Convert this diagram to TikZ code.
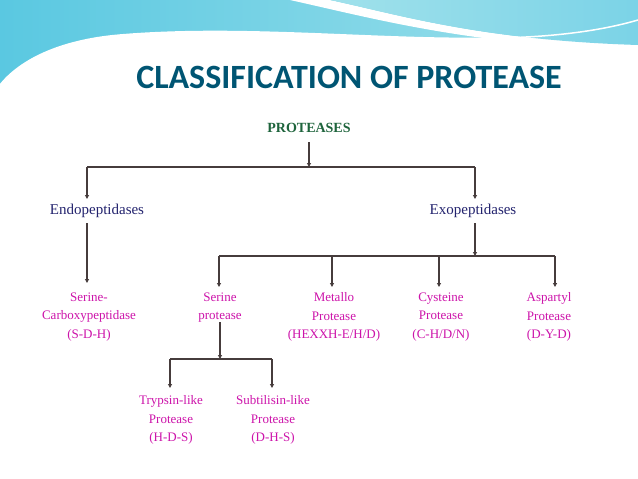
\documentclass[tikz,border=0pt]{standalone}
\usepackage{fontspec}
\setmainfont{Liberation Serif}
\newfontfamily\titlefont{Carlito}
\usetikzlibrary{arrows.meta}
\definecolor{teal1}{RGB}{0,85,115}
\definecolor{pinkt}{RGB}{205,20,170}
\definecolor{navyt}{RGB}{35,35,110}
\definecolor{greent}{RGB}{30,100,60}
\definecolor{cyan1}{RGB}{90,200,225}
\definecolor{cyan2}{RGB}{160,225,235}
\definecolor{linec}{RGB}{70,60,60}
\begin{document}
\begin{tikzpicture}[x=1pt,y=-1pt,
  conn/.style={draw=linec,line width=1.1pt},
  arr/.style={conn,-{Triangle[length=4pt,width=4pt]}},
  leaf/.style={text=pinkt,font=\fontsize{13}{18.5}\selectfont,align=center},
  mid/.style={text=navyt,font=\fontsize{15}{17}\selectfont},
]
\useasboundingbox (0,0) rectangle (638,479);
\fill[white] (0,0) rectangle (638,479);
% top waves
\shade[left color=cyan1,right color=cyan2] (0,0) -- (638,0) -- (638,20)
  .. controls (500,60) and (300,20) .. (120,35) .. controls (60,40) and (20,60) .. (0,85) -- cycle;
\fill[white] (290,0) .. controls (380,20) and (470,45) .. (638,50) -- (638,45)
  .. controls (480,40) and (400,15) .. (330,0) -- cycle;
\shade[left color=cyan2,right color=cyan1!80] (330,0) .. controls (400,15) and (480,40) .. (638,45) -- (638,0) -- cycle;
\draw[white,line width=1.5pt] (0,85) .. controls (20,60) and (60,40) .. (120,35) .. controls (300,20) and (500,60) .. (638,20);
\node[text=teal1,font=\titlefont\bfseries\fontsize{34}{36}\selectfont] (title) at (349,77) {CLASSIFICATION OF PROTEASE};
% nodes
\node[text=greent,font=\bfseries\fontsize{14}{16}\selectfont] (root) at (309,128) {PROTEASES};
\node[mid] (endo) at (97,211) {Endopeptidases};
\node[mid] (exo) at (473,211) {Exopeptidases};
\node[leaf] (sc) at (89,317) {Serine-\\Carboxypeptidase\\(S-D-H)};
\node[leaf] (sp) at (220,307.5) {Serine\\protease};
\node[leaf] (mp) at (334,317) {Metallo\\Protease\\(HEXXH-E/H/D)};
\node[leaf] (cp) at (441,317) {Cysteine\\Protease\\(C-H/D/N)};
\node[leaf] (ap) at (549,317) {Aspartyl\\Protease\\(D-Y-D)};
\node[leaf] (tp) at (171,420) {Trypsin-like\\Protease\\(H-D-S)};
\node[leaf] (su) at (273,420) {Subtilisin-like\\Protease\\(D-H-S)};
\coordinate (j0) at (309,167);
\coordinate (j1) at (475,256);
\coordinate (j2) at (220,359);
% connectors
\draw[arr] (309,142) -- (j0);
\draw[conn] (87,167) -- (475,167);
\draw[arr] (87,167) -- (87,199);
\draw[arr] (475,167) -- (475,199);
\draw[arr] (87,223) -- (87,283);
\draw[arr] (475,223) -- (j1);
\draw[conn] (219,256) -- (555,256);
\draw[arr] (219,256) -- (219,287);
\draw[arr] (332,256) -- (332,287);
\draw[arr] (439,256) -- (439,287);
\draw[arr] (555,256) -- (555,287);
\draw[arr] (220,322) -- (j2);
\draw[conn] (170,359) -- (272,359);
\draw[arr] (170,359) -- (170,388);
\draw[arr] (272,359) -- (272,388);
\end{tikzpicture}
\end{document}
